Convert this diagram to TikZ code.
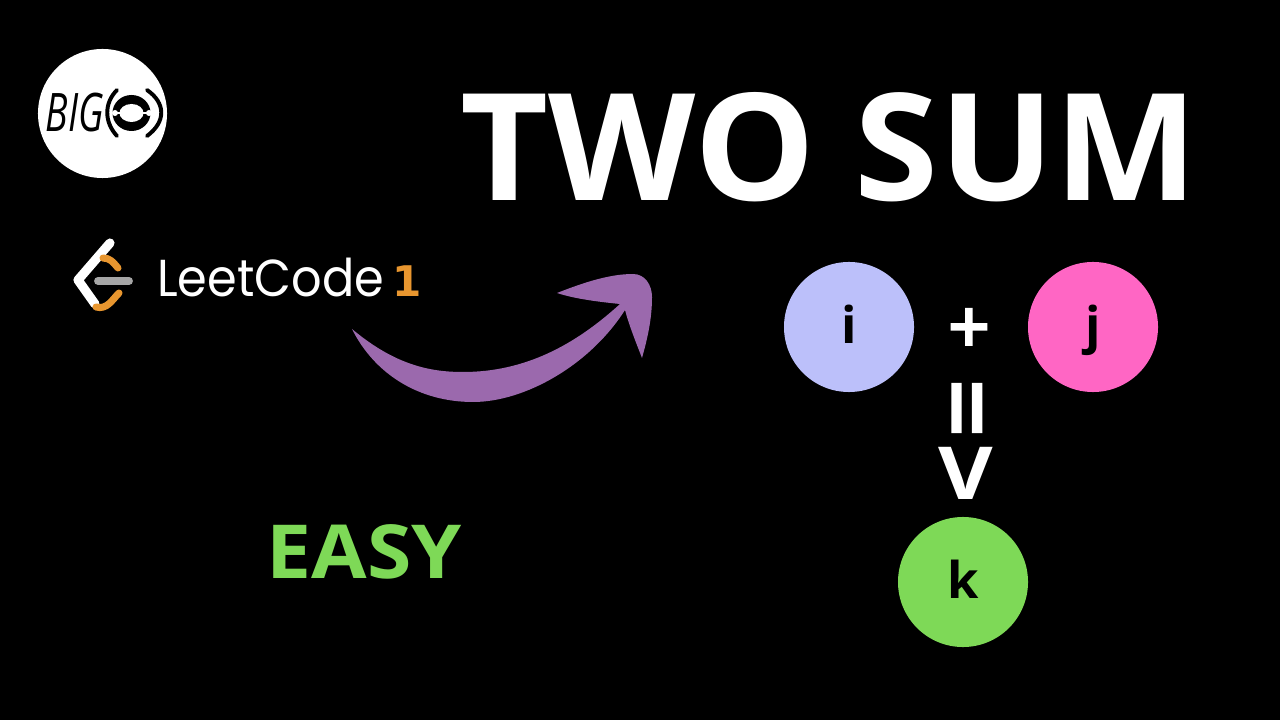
\documentclass[tikz,border=0pt]{standalone}
\usepackage{fontspec}
\setmainfont{Open Sans}
\newfontfamily\logofont{Poppins}
\newfontfamily\onefont{DejaVu Sans}
\newfontfamily\heavyfont[FakeBold=3.5]{Open Sans}
\usepackage{tikz}
\usetikzlibrary{positioning}
\definecolor{circi}{HTML}{BCC0FA}
\definecolor{circj}{HTML}{FF66C4}
\definecolor{circk}{HTML}{7ED957}
\definecolor{arrowpurple}{HTML}{9B69AD}
\definecolor{leetorange}{HTML}{E8962F}
\definecolor{leetgrey}{HTML}{A6A6A6}
\tikzset{
    sumcircle/.style={circle, minimum size=3.25cm, inner sep=0pt, text=black,
        text height=26pt, text depth=3.2pt, font=\fontsize{36}{36}\selectfont\bfseries},
    opsign/.style={inner sep=0pt, text=white, font=\fontsize{73}{73}\selectfont\heavyfont},
    logostroke/.style={line cap=round, line join=round}
}

\begin{document}
\begin{tikzpicture}[x=0.025cm, y=-0.025cm]
        \fill[black] (0,0) rectangle (1280,720);
        \useasboundingbox (0,0) rectangle (1280,720);
        \node[inner sep=0pt, text=white, xscale=1.022, font=\fontsize{106}{106}\selectfont\bfseries] (title) at (829,147) {TWO SUM};
        \node[sumcircle, fill=circi] (i) at (849,327) {i};
        \node[sumcircle, fill=circj] (j) at (1093,327) {j};
        \node[sumcircle, fill=circk] (k) at (963,582) {k};
        \node[opsign, font=\fontsize{52}{52}\selectfont\heavyfont] (plus) at (969,331) {+};
        \node[opsign, rotate=90] (equal) at (978,408) {=};
        \node[opsign, xscale=1.15, font=\fontsize{52}{52}\selectfont\bfseries] (vee) at (966,473) {V};
        \node[inner sep=0pt, text=circk, xscale=1.08, font=\fontsize{53}{53}\selectfont\bfseries] (easy) at (364,552) {EASY};
        \fill[arrowpurple] (352,329) .. controls (395,365) and (430,372) .. (463,372)
            .. controls (525,372) and (575,345) .. (620,304)
            .. controls (600,302) and (575,299) .. (557,293)
            .. controls (585,282) and (610,274) .. (633,274)
            .. controls (645,274) and (652,285) .. (652,297)
            .. controls (652,320) and (647,340) .. (642,358)
            .. controls (635,340) and (629,325) .. (625,310)
            .. controls (590,365) and (525,402) .. (473,402)
            .. controls (420,402) and (375,375) .. (352,329) -- cycle;
        \node[circle, fill=white, minimum size=3.225cm, inner sep=0pt] (bigo) at (102.5,113.5) {};
        \node[inner sep=0pt, text=black, xscale=0.95, yscale=1.35, font=\fontsize{28}{28}\selectfont\itshape] (bigtext) at (75,113) {BIG};
        \draw[black, line width=2.8pt, line cap=round] (117,90) .. controls (104,103) and (104,122) .. (117,136);
        \draw[black, line width=2.8pt, line cap=round] (147,90) .. controls (166,103) and (166,122) .. (147,136);
        \fill[black] (131.5,113) ellipse (19 and 18);
        \fill[white] (131.5,113) ellipse (12 and 9);
        \draw[white, line width=1pt] (113,113) -- (150,113);
        \fill[white] (115,113) circle (3);
        \fill[white] (149,113) circle (3);
        \draw[logostroke, white, line width=6.5pt] (110,243) -- (78,280) -- (95,304);
        \draw[logostroke, leetorange, line width=5pt] (103,258) .. controls (110,258) and (113,262) .. (118,268);
        \draw[logostroke, leetorange, line width=5pt] (96,307) .. controls (107,310) and (112,300) .. (119,293);
        \draw[logostroke, leetgrey, line width=5.6pt] (98,281) -- (129,281);
        \node[inner sep=0pt, text=white, anchor=base west, xscale=1.03, yscale=1.12, font=\fontsize{33}{33}\selectfont\logofont] (leet) at (157,297) {LeetCode};
        \node[inner sep=0pt, text=leetorange, anchor=base west, font=\fontsize{30}{30}\selectfont\onefont\bfseries] (one) at (392,297) {1};
    \end{tikzpicture}
\end{document}
